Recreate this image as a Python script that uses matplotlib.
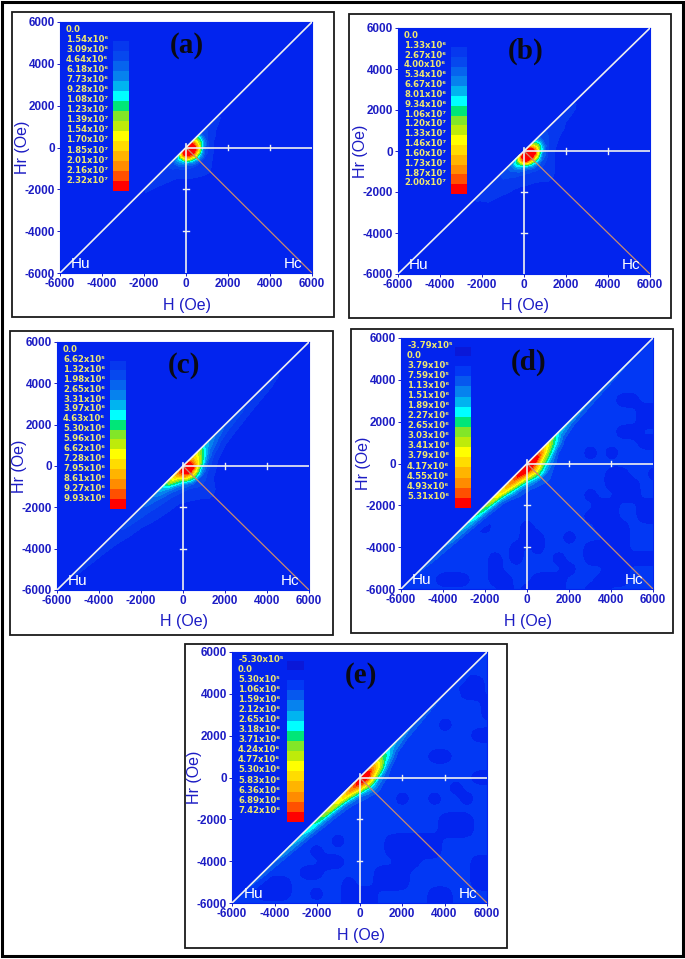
#!/usr/bin/env python3
import matplotlib
matplotlib.use('agg')
import matplotlib.pyplot as plt
from matplotlib.colors import ListedColormap
from matplotlib.patches import Polygon, Rectangle
import numpy as np

W, H = 685, 959

# FORC grid nodes, interaction field Hu (rows) and coercive field Hc (columns)
hu_nodes = [-6000, -4000, -3000, -2000, -1500, -1000, -700, -400, -200, 0,
            200, 400, 700, 1000, 1500, 2000, 3000, 4000, 6000]
hc_nodes = [0, 100, 200, 300, 400, 500, 700, 1000, 1500, 6000]

# contour levels printed next to each swatch
levels_a = [0.0, 1.54e6, 3.09e6, 4.64e6, 6.18e6, 7.73e6, 9.28e6, 1.08e7,
            1.23e7, 1.39e7, 1.54e7, 1.70e7, 1.85e7, 2.01e7, 2.16e7, 2.32e7]
levels_b = [0.0, 1.33e6, 2.67e6, 4.00e6, 5.34e6, 6.67e6, 8.01e6, 9.34e6,
            1.06e7, 1.20e7, 1.33e7, 1.46e7, 1.60e7, 1.73e7, 1.87e7, 2.00e7]
levels_c = [0.0, 6.62e5, 1.32e6, 1.98e6, 2.65e6, 3.31e6, 3.97e6, 4.63e6,
            5.30e6, 5.96e6, 6.62e6, 7.28e6, 7.95e6, 8.61e6, 9.27e6, 9.93e6]
levels_d = [-3.79e5, 0.0, 3.79e5, 7.59e5, 1.13e6, 1.51e6, 1.89e6, 2.27e6,
            2.65e6, 3.03e6, 3.41e6, 3.79e6, 4.17e6, 4.55e6, 4.93e6, 5.31e6]
levels_e = [-5.30e5, 0.0, 5.30e5, 1.06e6, 1.59e6, 2.12e6, 2.65e6, 3.18e6,
            3.71e6, 4.24e6, 4.77e6, 5.30e6, 5.83e6, 6.36e6, 6.89e6, 7.42e6]

# distribution in units of one contour step, one row per hu node
rho_a = [
    [0, 0, 0, 0, 0, 0, 0, 0, 0, 0],
    [0, 0, 0, 0, 0, 0, 0, 0, 0, 0],
    [0, 0, 0, 0, 0, 0, 0, 0, 0, 0],
    [0.9, 1.05, 0.8, 0, 0, 0, 0, 0, 0, 0],
    [1.1, 1.2, 1.2, 1.0, 0.8, 0.4, 0, 0, 0, 0],
    [1.5, 1.7, 1.6, 1.4, 1.2, 1.0, 0.6, 0, 0, 0],
    [2, 2.5, 2.3, 2, 1.7, 1.4, 1.2, 0.6, 0, 0],
    [5, 7, 6.5, 5.5, 4, 2.5, 1.4, 1.0, 0.5, 0],
    [13, 15.5, 15, 13, 8, 5, 1.7, 1.1, 0.6, 0],
    [16, 17.5, 17, 15.5, 11.5, 7, 1.8, 1.2, 0.6, 0],
    [15, 17, 16, 14.5, 10, 6, 1.6, 1.0, 0.3, 0],
    [9, 10, 9.5, 8, 5.5, 3, 1.4, 0.7, 0, 0],
    [3, 3, 2.5, 2, 1.6, 1.2, 0.8, 0.2, 0, 0],
    [1.6, 1.6, 1.4, 1.2, 1.0, 0.6, 0, 0, 0, 0],
    [1.0, 1.05, 0.8, 0.3, 0, 0, 0, 0, 0, 0],
    [0, 0, 0, 0, 0, 0, 0, 0, 0, 0],
    [0, 0, 0, 0, 0, 0, 0, 0, 0, 0],
    [0, 0, 0, 0, 0, 0, 0, 0, 0, 0],
    [0, 0, 0, 0, 0, 0, 0, 0, 0, 0],
]
rho_b = [
    [0, 0, 0, 0, 0, 0, 0, 0, 0, 0],
    [0, 0, 0, 0, 0, 0, 0, 0, 0, 0],
    [0.6, 0.4, 0, 0, 0, 0, 0, 0, 0, 0],
    [1.2, 1.3, 1.3, 1.2, 1.1, 0.8, 0, 0, 0, 0],
    [1.5, 1.6, 1.6, 1.5, 1.3, 1.2, 0.8, 0, 0, 0],
    [2, 2.2, 2.2, 2, 1.8, 1.5, 1.1, 0.6, 0, 0],
    [3, 3.5, 3.5, 3, 2.5, 2, 1.4, 0.9, 0.3, 0],
    [6, 8, 8, 7, 5, 3.2, 1.8, 1.1, 0.6, 0],
    [11, 15, 16, 15, 10, 6, 2.2, 1.3, 0.8, 0],
    [14, 17, 18, 17, 13, 8, 2.5, 1.4, 0.8, 0],
    [13, 16, 17, 16, 12, 7, 2.3, 1.3, 0.7, 0],
    [7, 9, 10, 9, 7, 4, 2, 1.1, 0.3, 0],
    [3, 3, 3, 2.5, 2.2, 1.8, 1.1, 0.6, 0, 0],
    [2, 2, 1.8, 1.6, 1.4, 1.2, 0.7, 0, 0, 0],
    [1.5, 1.5, 1.4, 1.2, 1, 0.6, 0, 0, 0, 0],
    [1.6, 1.6, 1.3, 0.6, 0, 0, 0, 0, 0, 0],
    [0, 0, 0, 0, 0, 0, 0, 0, 0, 0],
    [0, 0, 0, 0, 0, 0, 0, 0, 0, 0],
    [0, 0, 0, 0, 0, 0, 0, 0, 0, 0],
]
rho_c = [
    [0.6, 0.6, 0, 0, 0, 0, 0, 0, 0, 0],
    [1.6, 1.6, 1.2, 0.6, 0, 0, 0, 0, 0, 0],
    [2, 2, 1.7, 1.4, 1.1, 0.7, 0, 0, 0, 0],
    [3, 2.8, 2.4, 2, 1.6, 1.3, 0.9, 0, 0, 0],
    [4, 3.5, 3, 2.4, 2, 1.6, 1.1, 0.5, 0, 0],
    [6, 5.5, 4.5, 3.3, 2.5, 2, 1.2, 0.7, 0, 0],
    [9, 9, 7, 5, 3.5, 2.6, 1.5, 1, 0.4, 0],
    [12, 12, 10, 8, 6, 4, 2, 1.2, 0.7, 0],
    [14, 15, 14.5, 13, 10, 7, 2.5, 1.4, 0.9, 0],
    [15, 16.5, 17, 16, 12, 9, 3, 1.6, 0.9, 0],
    [14, 16, 16, 15, 11, 8, 2.8, 1.4, 0.8, 0],
    [12, 12.5, 12, 11, 8.5, 5.5, 2.2, 1.1, 0.3, 0],
    [10, 9, 8, 6.5, 5, 3, 1.5, 0.6, 0, 0],
    [6, 5.5, 4.5, 3.5, 2.5, 1.7, 0.9, 0, 0, 0],
    [4, 3.5, 2.8, 2, 1.5, 1, 0.4, 0, 0, 0],
    [3, 2.6, 2, 1.5, 1.1, 0.7, 0, 0, 0, 0],
    [2, 1.8, 1.4, 1, 0.6, 0, 0, 0, 0, 0],
    [1.4, 1.3, 1, 0.5, 0, 0, 0, 0, 0, 0],
    [0, 0, 0, 0, 0, 0, 0, 0, 0, 0],
]
rho_d = [
    [1.5, 1, 0.5, 0, 0, 0, 0, 0, 0, 0],
    [3, 2.5, 1.6, 1.1, 0.8, 0.5, 0.3, 0, 0, 0],
    [4.5, 3.8, 2.4, 1.5, 1.1, 0.8, 0.5, 0.3, 0, 0],
    [7.5, 6.5, 4, 2.3, 1.6, 1.2, 0.9, 0.6, 0.3, 0],
    [9.5, 9, 5.5, 3.2, 2, 1.4, 1, 0.7, 0.4, 0],
    [11, 11.5, 9, 6, 4, 2.5, 1.5, 1.1, 0.7, 0],
    [13, 13, 11, 8, 5, 3.2, 1.8, 1.2, 0.8, 0],
    [14.5, 15, 13, 10, 7, 4.5, 2.2, 1.3, 0.9, 0],
    [15, 16, 14, 11, 8.5, 6, 2.5, 1.4, 0.9, 0],
    [15, 16, 14.5, 12, 10, 7, 3, 1.5, 1, 0],
    [15, 16, 13.5, 11, 9, 6.5, 3, 1.5, 1, 0],
    [14, 14.5, 12, 9, 7, 5, 2.4, 1.3, 0.9, 0],
    [12, 11, 9, 7, 5, 3.5, 1.8, 1.1, 0.7, 0],
    [9, 8, 6.5, 5, 3, 2, 1.3, 0.9, 0.5, 0],
    [5, 4, 3, 2, 1.4, 1.2, 1, 0.7, 0.4, 0],
    [4, 3, 2, 1.5, 1.2, 1, 0.8, 0.5, 0.3, 0],
    [3, 2.2, 1.5, 1.1, 0.8, 0.5, 0.3, 0, 0, 0],
    [2.5, 1.8, 1.1, 0.7, 0.4, 0, 0, 0, 0, 0],
    [1.5, 1, 0.4, 0, 0, 0, 0, 0, 0, 0],
]
rho_e = [
    [1.5, 1, 0.6, 0, 0, 0, 0, 0, 0, 0],
    [3, 2.5, 1.6, 1.1, 0.8, 0.5, 0.3, 0, 0, 0],
    [4.5, 3.8, 2.4, 1.5, 1.1, 0.8, 0.5, 0.3, 0, 0],
    [6.5, 6, 3.8, 2.4, 1.7, 1.3, 0.9, 0.6, 0.3, 0],
    [8.5, 8, 5, 3, 2, 1.5, 1.1, 0.8, 0.4, 0],
    [9.5, 9.5, 7, 4, 2.6, 1.8, 1.3, 0.9, 0.5, 0],
    [10.5, 11, 8.5, 5.5, 3.5, 2.2, 1.4, 1, 0.6, 0],
    [12, 13, 11, 8, 5, 3, 1.7, 1.1, 0.7, 0],
    [13, 14.5, 13, 10, 6.5, 4, 2, 1.2, 0.7, 0],
    [14, 15.5, 14, 11, 8, 5, 2.2, 1.3, 0.8, 0],
    [14.5, 16, 14.5, 11, 8, 5, 2.2, 1.3, 0.8, 0],
    [13, 14, 12, 9.5, 7, 4, 2, 1.2, 0.7, 0],
    [10.5, 10.5, 9.5, 7.5, 5, 3, 1.6, 1, 0.5, 0],
    [7, 7, 6, 4.5, 3, 2, 1.2, 0.8, 0.4, 0],
    [4.5, 4, 3, 2, 1.4, 1.1, 0.8, 0.5, 0.2, 0],
    [3.5, 3, 2, 1.5, 1.2, 0.9, 0.6, 0.3, 0, 0],
    [2.5, 2, 1.5, 1.0, 0.8, 0.5, 0.3, 0, 0, 0],
    [2, 1.6, 1.1, 0.7, 0.4, 0.2, 0, 0, 0, 0],
    [1, 0.8, 0.3, 0, 0, 0, 0, 0, 0, 0],
]

# weak background of (d) and (e), 500 Oe nodes, Hr from +6000 down,
# H from -6000 across: 0 is below the first band, 1 is inside it
patch_d = [
    "1111111111111111111111111",
    "1111111111111111111111111",
    "1111111111111111111111111",
    "1111111111111111111111111",
    "1111111111111111111111111",
    "1111111111111111111111111",
    "1111111111111111111110011",
    "1111111111111111111111100",
    "1111111111111111111111100",
    "1111111111111111111110011",
    "1111111111111111111111100",
    "1111111111111111110101111",
    "1111111111111111111111111",
    "1111111111111111111100110",
    "1111111111111111111100011",
    "1111111111111111110110011",
    "1111111111111111111001100",
    "1111111111111111110101100",
    "1111111101110111111000111",
    "1111111111110011011100111",
    "1111111111101011110000111",
    "1111111110101110110001000",
    "1111111110111111011100111",
    "1111000110011000111000111",
    "1111111111010000110011111",
]
patch_e = [
    "1111111111111111111111111",
    "1111111111111111111111111",
    "1111111111111111111111111",
    "1111111111111111111111001",
    "1111111111111111111111001",
    "1111111111111111111111110",
    "1111111111111111111111110",
    "1111111111111111111101111",
    "1111111111111111111111100",
    "1111111111111111111111111",
    "1111111111111111111001111",
    "1111111111111111111111111",
    "1111111111111111111111100",
    "1111111111111111111110111",
    "1111111111111111011011011",
    "1111111111111111111111111",
    "1111111111111111111100011",
    "1111111111111111111100011",
    "1111111111011110000011111",
    "1111111101111110000011111",
    "1111111110011111001111100",
    "1111111001111100011111100",
    "1110001111101100011111100",
    "1110001101100011111001111",
    "1111111111100011111001111",
]

axis_ticks = [-6000, -4000, -2000, 0, 2000, 4000, 6000]

# blue to red contour colours
bg_blue = '#0224ee'
dark_blue = '#0a18d8'
light_blue = '#0238f4'
warm_bands = ['#00ffff', '#00e678', '#82e628', '#beeb0a', '#ffff00', '#ffdc00',
              '#ffb400', '#ff8c00', '#ff5000', '#ff0000']
bands_abc = ['#0638ee', '#0648ee', '#0664ee', '#0682ee', '#00b4f0'] + warm_bands
bands_de = [light_blue, '#0658ee', '#0682ee', '#00b4f0'] + warm_bands

plt.rcParams['font.family'] = ['Liberation Sans', 'DejaVu Sans']
plt.rcParams['axes.unicode_minus'] = False

tick_blue = '#1c1cc4'
SUPERSCRIPT = str.maketrans('0123456789', '⁰¹²³⁴⁵⁶⁷⁸⁹')
KERNEL = np.array([1, 2, 3, 4, 3, 2, 1]) / 16.0


def px_rect(x0, y0, x1, y1):
    return [x0 / W, 1 - y1 / H, (x1 - x0) / W, (y1 - y0) / H]


def level_text(v):
    if v == 0:
        return '0.0'
    mant, exp = ('%.2e' % v).split('e')
    return '%sx10%s' % (mant, str(int(exp)).translate(SUPERSCRIPT))


def round_patches(patch):
    # blocks of 4x4 cells, softened so the contour comes out as round blobs
    grid = np.array([[int(c) - 0.5 for c in row] for row in patch])
    fine = np.kron(grid, np.ones((4, 4)))
    fine = np.pad(fine, 3, mode='edge')
    fine = np.apply_along_axis(lambda r: np.convolve(r, KERNEL, mode='valid'), 0, fine)
    fine = np.apply_along_axis(lambda r: np.convolve(r, KERNEL, mode='valid'), 1, fine)
    return fine


def draw_panel(fig, frame, box, tag, levels, rho, patch=None):
    fig.add_artist(Rectangle((frame[0] / W, 1 - frame[3] / H),
                             (frame[2] - frame[0]) / W, (frame[3] - frame[1]) / H,
                             transform=fig.transFigure, fill=False,
                             edgecolor='#1a1a1a', linewidth=1.3))
    ax = fig.add_axes(px_rect(*box), facecolor=bg_blue)

    has_neg = levels[0] < 0
    first = 2 if has_neg else 1
    bands = bands_de if has_neg else bands_abc
    step = levels[first + 1] - levels[first]

    if patch is not None:
        fine = round_patches(patch) * step
        nodes = np.linspace(-6250, 6250, fine.shape[0])
        cs = ax.contourf(nodes, nodes[::-1], fine,
                         levels=[-2 * step, 0.22 * step, 2 * step],
                         colors=[bg_blue, light_blue])
        # the measurement only exists below the H = Hr diagonal
        cs.set_clip_path(Polygon([(-6000, -6000), (6000, 6000), (6000, -6000)],
                                 transform=ax.transData))

    # the table sits on (Hu, Hc), the axes show H = Hu + Hc and Hr = Hu - Hc
    hu, hc = np.meshgrid(hu_nodes, hc_nodes, indexing='ij')
    ax.contourf(hu + hc, hu - hc, np.array(rho) * step, levels=levels[first:],
                colors=bands, extend='max')

    ax.set_xlim(-6000, 6000)
    ax.set_ylim(-6000, 6000)
    ax.set_xticks(axis_ticks)
    ax.set_yticks(axis_ticks)
    ax.tick_params(length=2, width=0.7, color=tick_blue, pad=1.5, labelsize=8.5,
                   labelcolor=tick_blue)
    for lab in ax.get_xticklabels() + ax.get_yticklabels():
        lab.set_fontweight('bold')
    for s in ax.spines.values():
        s.set_color(bg_blue)
    ax.set_xlabel('H (Oe)', fontsize=11.5, color=tick_blue)
    ax.set_ylabel('Hr (Oe)', fontsize=11.5, color=tick_blue)
    ax.xaxis.set_label_coords(0.505, -0.098)
    ax.yaxis.set_label_coords(-0.118, 0.5)

    # FORC axes drawn over the map
    ax.plot([-6000, 6000], [-6000, 6000], color='#f0f0f0', lw=1.2, zorder=5)
    ax.plot([0, 6000], [0, -6000], color='#c88a70', lw=0.9, zorder=5)
    ax.plot([0, 6000], [0, 0], color='#f0f0f0', lw=1.2, zorder=5)
    ax.plot([0, 0], [150, -6000], color='#f0f0f0', lw=1.2, zorder=5)
    for t in [2000, 4000]:
        ax.plot([t, t], [-130, 130], color='#f0f0f0', lw=1.0, zorder=5)
        ax.plot([-130, 130], [-t, -t], color='#f0f0f0', lw=1.0, zorder=5)

    ax.text(0.083, 0.035, 'Hu', transform=ax.transAxes, color='white',
            fontsize=11, ha='center', va='center', zorder=6)
    ax.text(0.925, 0.035, 'Hc', transform=ax.transAxes, color='white',
            fontsize=11, ha='center', va='center', zorder=6)
    ax.text(0.505, 0.905, tag, transform=ax.transAxes, color='#0a0a14', fontsize=21,
            fontweight='bold', family=['Liberation Serif'], ha='center', va='center',
            zorder=6)

    # stepped swatch with its level list
    if has_neg:
        cols = [dark_blue, bg_blue] + bands
        sw = ax.inset_axes([0.214, 0.323, 0.063, 0.642])
    else:
        cols = bands
        sw = ax.inset_axes([0.212, 0.327, 0.063, 0.597])
    sw.imshow(np.arange(len(cols))[:, None], cmap=ListedColormap(cols), aspect='auto',
              interpolation='nearest')
    sw.axis('off')
    sw.set_zorder(6)
    for i, v in enumerate(levels):
        ax.text(0.024, 0.97 - i * 0.04, level_text(v), transform=ax.transAxes,
                color='#efe870', fontsize=6.1, fontweight='bold', family=['DejaVu Sans'],
                ha='left', va='center', zorder=6)
    return ax


fig = plt.figure(figsize=(W / 100, H / 100), dpi=100, facecolor='white')

draw_panel(fig, (12, 12, 334, 317), (60, 22, 312, 273), '(a)', levels_a, rho_a)
draw_panel(fig, (349, 14, 671, 318), (398, 28, 650, 274), '(b)', levels_b, rho_b)
draw_panel(fig, (10, 331, 333, 635), (57, 342, 309, 590), '(c)', levels_c, rho_c)
draw_panel(fig, (351, 329, 673, 633), (401, 338, 653, 589), '(d)', levels_d, rho_d, patch_d)
draw_panel(fig, (185, 644, 507, 948), (232, 652, 487, 903), '(e)', levels_e, rho_e, patch_e)

# outer border round the whole figure
fig.add_artist(Rectangle((2 / W, 1 - 956 / H), 681 / W, 954 / H, transform=fig.transFigure,
                         fill=False, edgecolor='black', linewidth=2.2))

plt.savefig('out.png', dpi=100)
plt.close('all')
